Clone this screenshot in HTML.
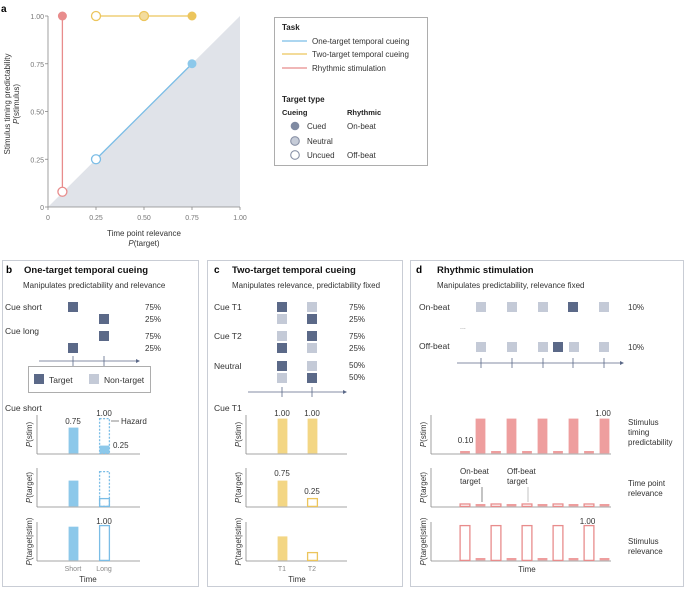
<!DOCTYPE html>
<html><head><meta charset="utf-8"><style>
body{margin:0;background:#fff;width:685px;height:589px;overflow:hidden;font-family:"Liberation Sans",sans-serif}
svg{display:block}
</style></head><body>
<svg id="fig" width="685" height="589" viewBox="0 0 685 589" xmlns="http://www.w3.org/2000/svg" font-family="Liberation Sans, sans-serif"></svg>
<script>
// ---- Panel a data ----
const aTicks = [0, 0.25, 0.5, 0.75, 1.0];
const aTickLabels = ["0", "0.25", "0.50", "0.75", "1.00"];
const pinkX = [0.075, 0.075];
const pinkY = [1.0, 0.08];
const blueX = [0.25, 0.75];
const blueY = [0.25, 0.75];
const yellowX = [0.25, 0.5, 0.75];
const yellowY = [1.0, 1.0, 1.0];
// ---- Panel b data ----
const bCats = ["Short", "Long"];
const bStim = [0.75, 0.25];
const bStimHazard = [null, 1.0];
const bTarget = [0.75, 0.25];
const bTargetStim = [0.97, 1.0];
// ---- Panel c data ----
const cCats = ["T1", "T2"];
const cStim = [1.0, 1.0];
const cTarget = [0.75, 0.25];
const cTargetStim = [0.7, 0.25];
// ---- Panel d data ----
const dStim = [0.1, 1, 0.1, 1, 0.1, 1, 0.1, 1, 0.1, 1];
const dTarget = [0.1, 0.1, 0.1, 0.1, 0.1, 0.1, 0.1, 0.1, 0.1, 0.1];
const dTargetStim = [1, 0.1, 1, 0.1, 1, 0.1, 1, 0.1, 1, 0.1];

const NS = "http://www.w3.org/2000/svg";
const svg = document.getElementById('fig');
function mk(tag, attrs, name, parent) {
  const el = document.createElementNS(NS, tag);
  for (const k in attrs) el.setAttribute(k, attrs[k]);
  
  
  (parent || svg).appendChild(el);
  return el;
}
function txt(x, y, s, name, o) {
  o = o || {};
  const t = mk('text', {x: x, y: y, 'font-size': o.size || 9, fill: o.fill || '#333', 'text-anchor': o.anchor || 'start', 'font-weight': o.weight || 'normal'}, name);
  if (o.rot) t.setAttribute('transform', 'rotate(-90 ' + x + ' ' + y + ')');
  if (o.italicP) {
    const p = document.createElementNS(NS, 'tspan'); p.setAttribute('font-style', 'italic'); p.textContent = 'P'; t.appendChild(p);
    t.appendChild(document.createTextNode(s));
  } else t.textContent = s;
  return t;
}
const BLUE = '#8cc8ea', BLUES = '#7bbde6', YEL = '#f3d684', YELS = '#ecc55c', PINK = '#ee9e9e', PINKS = '#e88c8c';
const DARK = '#5b6988', LIGHT = '#c4cad7', AX = '#888';

// ===== Panel a =====
const ax = v => 48 + v * 192;
const ay = v => 207 - v * 191;
txt(1, 12, 'a', 'panel-a-label', {weight: 'bold', size: 10, fill: '#000'});
mk('polygon', {points: `${ax(0)},${ay(0)} ${ax(1)},${ay(1)} ${ax(1)},${ay(0)}`, fill: '#e0e3e9'}, 'diagonal-region');
mk('line', {x1: ax(0), y1: ay(0), x2: ax(0), y2: ay(1), stroke: AX, 'stroke-width': 0.8}, 'y-axis');
mk('line', {x1: ax(0), y1: ay(0), x2: ax(1), y2: ay(0), stroke: AX, 'stroke-width': 0.8}, 'x-axis');
aTicks.forEach((t, i) => {
  mk('line', {x1: ax(0) - 3, y1: ay(t), x2: ax(0), y2: ay(t), stroke: AX, 'stroke-width': 0.8}, 'y-tick');
  txt(ax(0) - 4, ay(t) + 3, aTickLabels[i], 'y-tick-label', {anchor: 'end', size: 7, fill: '#777'});
  mk('line', {x1: ax(t), y1: ay(0), x2: ax(t), y2: ay(0) + 3, stroke: AX, 'stroke-width': 0.8}, 'x-tick');
  txt(ax(t), ay(0) + 13, aTickLabels[i], 'x-tick-label', {anchor: 'middle', size: 7, fill: '#777'});
});
txt(144, 236, 'Time point relevance', 'x-axis-title', {anchor: 'middle', size: 8});
txt(144, 246, '(target)', 'x-axis-title-sub', {anchor: 'middle', size: 8, italicP: true});
txt(10, 104, 'Stimulus timing predictability', 'y-axis-title', {anchor: 'middle', size: 8, rot: true});
txt(19, 104, '(stimulus)', 'y-axis-title-sub', {anchor: 'middle', size: 8, rot: true, italicP: true});
mk('line', {x1: ax(pinkX[0]), y1: ay(pinkY[0]), x2: ax(pinkX[1]), y2: ay(pinkY[1]), stroke: PINKS, 'stroke-width': 1.3}, 'rhythmic-line');
mk('line', {x1: ax(blueX[0]), y1: ay(blueY[0]), x2: ax(blueX[1]), y2: ay(blueY[1]), stroke: BLUES, 'stroke-width': 1.3}, 'one-target-line');
mk('line', {x1: ax(yellowX[0]), y1: ay(yellowY[0]), x2: ax(yellowX[2]), y2: ay(yellowY[2]), stroke: YELS, 'stroke-width': 1.3}, 'two-target-line');
mk('circle', {cx: ax(pinkX[0]), cy: ay(pinkY[0]), r: 4.5, fill: PINKS}, 'rhythmic-onbeat-point');
mk('circle', {cx: ax(pinkX[1]), cy: ay(pinkY[1]), r: 4.5, fill: '#fff', stroke: PINKS, 'stroke-width': 1.3}, 'rhythmic-offbeat-point');
mk('circle', {cx: ax(blueX[0]), cy: ay(blueY[0]), r: 4.5, fill: '#fff', stroke: BLUES, 'stroke-width': 1.3}, 'one-target-uncued-point');
mk('circle', {cx: ax(blueX[1]), cy: ay(blueY[1]), r: 4.5, fill: BLUE}, 'one-target-cued-point');
mk('circle', {cx: ax(yellowX[0]), cy: ay(yellowY[0]), r: 4.5, fill: '#fff', stroke: YELS, 'stroke-width': 1.3}, 'two-target-uncued-point');
mk('circle', {cx: ax(yellowX[1]), cy: ay(yellowY[1]), r: 4.5, fill: '#f3dc9e', stroke: YELS, 'stroke-width': 1.3}, 'two-target-neutral-point');
mk('circle', {cx: ax(yellowX[2]), cy: ay(yellowY[2]), r: 4.5, fill: YELS}, 'two-target-cued-point');

// legend
mk('rect', {x: 274.5, y: 17.5, width: 153, height: 148, fill: '#fff', stroke: '#999', 'stroke-width': 0.8}, 'legend-box');
txt(282, 30, 'Task', 'legend-task-heading', {weight: 'bold', size: 8, fill: '#222'});
[['One-target temporal cueing', BLUES, 41], ['Two-target temporal cueing', YELS, 54], ['Rhythmic stimulation', PINKS, 68]].forEach(l => {
  mk('line', {x1: 282, y1: l[2], x2: 307, y2: l[2], stroke: l[1], 'stroke-width': 1.2}, 'legend-entry-line');
  txt(312, l[2] + 3, l[0], 'legend-entry', {size: 8});
});
txt(282, 102, 'Target type', 'legend-target-heading', {weight: 'bold', size: 8, fill: '#222'});
txt(282, 115, 'Cueing', 'legend-cueing-heading', {weight: 'bold', size: 7.5, fill: '#222'});
txt(347, 115, 'Rhythmic', 'legend-rhythmic-heading', {weight: 'bold', size: 7.5, fill: '#222'});
[['Cued', 'On-beat', 126, '#7f8aa2', 'none'], ['Neutral', '', 141, '#c6ccd8', '#8890a5'], ['Uncued', 'Off-beat', 155, '#fff', '#8890a5']].forEach(l => {
  mk('circle', {cx: 295, cy: l[2], r: 4.3, fill: l[3], stroke: l[4], 'stroke-width': 1.1}, 'legend-marker');
  txt(307, l[2] + 3, l[0], 'legend-entry', {size: 8});
  if (l[1]) txt(347, l[2] + 3, l[1], 'legend-entry', {size: 8});
});

// ===== panel frames =====
mk('rect', {x: 2.5, y: 260.5, width: 196, height: 326, fill: 'none', stroke: '#c9cdd5'}, 'panel-b-frame');
mk('rect', {x: 207.5, y: 260.5, width: 195, height: 326, fill: 'none', stroke: '#c9cdd5'}, 'panel-c-frame');
mk('rect', {x: 410.5, y: 260.5, width: 273, height: 326, fill: 'none', stroke: '#c9cdd5'}, 'panel-d-frame');

function sq(x, y, dark, name) { mk('rect', {x: x, y: y, width: 10, height: 10, fill: dark ? DARK : LIGHT}, name); }
function timeAxis(x1, x2, y, ticks, name) {
  mk('line', {x1: x1, y1: y, x2: x2, y2: y, stroke: '#5b6988', 'stroke-width': 0.8}, name);
  mk('polygon', {points: `${x2},${y - 2} ${x2 + 4},${y} ${x2},${y + 2}`, fill: '#5b6988'}, name + '-arrow');
  ticks.forEach(t => mk('line', {x1: t, y1: y - 5, x2: t, y2: y + 5, stroke: '#5b6988', 'stroke-width': 0.8}, name + '-tick'));
}
function plotAxes(x0, x1, yTop, yBase, ylab, name) {
  mk('line', {x1: x0, y1: yTop, x2: x0, y2: yBase, stroke: AX, 'stroke-width': 0.8}, name + '-y-axis');
  mk('line', {x1: x0, y1: yBase, x2: x1, y2: yBase, stroke: AX, 'stroke-width': 0.8}, name + '-x-axis');
  txt(x0 - 5, (yTop + yBase) / 2, ylab, name + '-y-label', {anchor: 'middle', size: 8, rot: true, italicP: true});
}
const H = 36;
function bar(x, w, base, v, filled, fill, stroke, name, dashed) {
  const h = v * H;
  const a = {x: x + 0.6, y: base - h + 0.6, width: w - 1.2, height: Math.max(h - 1.2, 0.5)};
  if (filled) { a.fill = fill; }
  else { a.fill = 'none'; a.stroke = stroke; a['stroke-width'] = 1.3; if (dashed) a['stroke-dasharray'] = '2,1.5'; }
  mk('rect', a, name);
}

// ===== Panel b =====
txt(6, 273, 'b', 'panel-b-label', {weight: 'bold', size: 10, fill: '#000'});
txt(24, 273, 'One-target temporal cueing', 'panel-b-title', {weight: 'bold', size: 9.5, fill: '#111'});
txt(23, 288, 'Manipulates predictability and relevance', 'panel-b-subtitle', {size: 8});
txt(5, 310, 'Cue short', 'cue-short-label', {size: 8.5});
txt(5, 334, 'Cue long', 'cue-long-label', {size: 8.5});
sq(68, 302, true, 'target-square'); sq(99, 314, true, 'target-square');
sq(99, 331, true, 'target-square'); sq(68, 343, true, 'target-square');
[['75%', 310], ['25%', 322], ['75%', 339], ['25%', 351]].forEach(p => txt(145, p[1], p[0], 'percent-label', {size: 8}));
timeAxis(39, 136, 361, [73, 104], 'panel-b-time-axis');
mk('rect', {x: 28.5, y: 366.5, width: 122, height: 26, fill: '#fff', stroke: '#999', 'stroke-width': 0.8}, 'square-legend-box');
sq(34, 374, true, 'legend-target-square'); txt(49, 383, 'Target', 'legend-target-label', {size: 8.5});
sq(89, 374, false, 'legend-nontarget-square'); txt(104, 383, 'Non-target', 'legend-nontarget-label', {size: 8.5});
txt(5, 411, 'Cue short', 'cue-short-plot-label', {size: 8.5});
const bX = i => 68 + i * 31;
plotAxes(37, 140, 415, 454, '(stim)', 'b-stim');
plotAxes(37, 140, 468, 507, '(target)', 'b-target');
plotAxes(37, 140, 522, 561, '(target|stim)', 'b-target-stim');
bStim.forEach((v, i) => { if (bStimHazard[i]) bar(bX(i), 11, 454, bStimHazard[i], false, BLUE, BLUES, 'hazard-bar', true); });
bStim.forEach((v, i) => bar(bX(i), 11, 454, v, true, BLUE, BLUES, 'b-stim-bar'));
txt(bX(0) + 5, 424, '0.75', 'b-stim-value', {anchor: 'middle', size: 8});
txt(bX(1) + 5, 416, '1.00', 'b-hazard-value', {anchor: 'middle', size: 8});
txt(113, 448, '0.25', 'b-stim-value', {size: 8});
mk('line', {x1: 111, y1: 421, x2: 119, y2: 421, stroke: '#555', 'stroke-width': 0.7}, 'hazard-pointer');
txt(121, 424, 'Hazard', 'hazard-label', {size: 8});
bar(bX(1), 11, 507, 1.0, false, BLUE, BLUES, 'b-target-dashed', true);
bTarget.forEach((v, i) => bar(bX(i), 11, 507, v, i === 0, BLUE, BLUES, 'b-target-bar'));
bTargetStim.forEach((v, i) => bar(bX(i), 11, 561, v, i === 0, BLUE, BLUES, 'b-target-stim-bar'));
txt(bX(1) + 5, 524, '1.00', 'b-target-stim-value', {anchor: 'middle', size: 8});
bCats.forEach((c, i) => txt(bX(i) + 5, 571, c, 'b-x-label', {anchor: 'middle', size: 7, fill: '#888'}));
txt(88, 582, 'Time', 'b-time-label', {anchor: 'middle', size: 8});

// ===== Panel c =====
txt(214, 273, 'c', 'panel-c-label', {weight: 'bold', size: 10, fill: '#000'});
txt(232, 273, 'Two-target temporal cueing', 'panel-c-title', {weight: 'bold', size: 9.5, fill: '#111'});
txt(232, 288, 'Manipulates relevance, predictability fixed', 'panel-c-subtitle', {size: 8});
txt(214, 310, 'Cue T1', 'cue-t1-label', {size: 8.5});
txt(214, 339, 'Cue T2', 'cue-t2-label', {size: 8.5});
txt(214, 369, 'Neutral', 'neutral-label', {size: 8.5});
const cRows = [[302, 1, 0], [314, 0, 1], [331, 0, 1], [343, 1, 0], [361, 1, 0], [373, 0, 1]];
cRows.forEach(r => { sq(277, r[0], r[1], 'c-square'); sq(307, r[0], r[2], 'c-square'); });
[['75%', 310], ['25%', 322], ['75%', 339], ['25%', 351], ['50%', 368], ['50%', 380]].forEach(p => txt(349, p[1], p[0], 'percent-label', {size: 8}));
timeAxis(248, 343, 392, [282, 312], 'panel-c-time-axis');
txt(214, 411, 'Cue T1', 'cue-t1-plot-label', {size: 8.5});
const cX = i => 277 + i * 30;
plotAxes(246, 347, 415, 454, '(stim)', 'c-stim');
plotAxes(246, 347, 468, 507, '(target)', 'c-target');
plotAxes(246, 347, 522, 561, '(target|stim)', 'c-target-stim');
cStim.forEach((v, i) => { bar(cX(i), 11, 454, v, true, YEL, YELS, 'c-stim-bar'); txt(cX(i) + 5, 416, v.toFixed(2), 'c-stim-value', {anchor: 'middle', size: 8}); });
cTarget.forEach((v, i) => { bar(cX(i), 11, 507, v, i === 0, YEL, YELS, 'c-target-bar'); txt(cX(i) + 5, 507 - v * H - 4, v.toFixed(2), 'c-target-value', {anchor: 'middle', size: 8}); });
cTargetStim.forEach((v, i) => bar(cX(i), 11, 561, v, i === 0, YEL, YELS, 'c-target-stim-bar'));
cCats.forEach((c, i) => txt(cX(i) + 5, 571, c, 'c-x-label', {anchor: 'middle', size: 7, fill: '#888'}));
txt(297, 582, 'Time', 'c-time-label', {anchor: 'middle', size: 8});

// ===== Panel d =====
txt(416, 273, 'd', 'panel-d-label', {weight: 'bold', size: 10, fill: '#000'});
txt(437, 273, 'Rhythmic stimulation', 'panel-d-title', {weight: 'bold', size: 9.5, fill: '#111'});
txt(437, 288, 'Manipulates predictability, relevance fixed', 'panel-d-subtitle', {size: 8});
txt(419, 310, 'On-beat', 'on-beat-label', {size: 8.5});
txt(419, 349, 'Off-beat', 'off-beat-label', {size: 8.5});
txt(460, 329, '...', 'ellipsis', {size: 7, fill: '#888'});
[476, 507, 538, 568, 599].forEach(x => sq(x, 302, x === 568, 'd-onbeat-square'));
[476, 507, 538, 553, 569, 599].forEach(x => sq(x, 342, x === 553, 'd-offbeat-square'));
txt(628, 310, '10%', 'percent-label', {size: 8});
txt(628, 350, '10%', 'percent-label', {size: 8});
timeAxis(457, 620, 363, [481, 512, 543, 573, 604], 'panel-d-time-axis');
const dX = i => 459.5 + i * 15.5;
plotAxes(431, 611, 415, 454, '(stim)', 'd-stim');
plotAxes(431, 611, 468, 507, '(target)', 'd-target');
plotAxes(431, 611, 522, 561, '(target|stim)', 'd-target-stim');
dStim.forEach((v, i) => bar(dX(i), 11, 454, v, true, PINK, PINKS, 'd-stim-bar'));
txt(dX(0) + 6, 443, dStim[0].toFixed(2), 'd-stim-value', {anchor: 'middle', size: 8});
txt(dX(9) + 4, 416, dStim[9].toFixed(2), 'd-stim-value', {anchor: 'middle', size: 8});
dTarget.forEach((v, i) => bar(dX(i), 11, 507, v, i % 2 === 1, PINK, PINKS, 'd-target-bar'));
dTargetStim.forEach((v, i) => bar(dX(i), 11, 561, v, v < 0.5, PINK, PINKS, 'd-target-stim-bar'));
txt(dX(8) + 4, 524, '1.00', 'd-target-stim-value', {anchor: 'middle', size: 8});
txt(460, 474, 'On-beat', 'on-beat-target-label', {size: 8});
txt(460, 484, 'target', 'on-beat-target-label', {size: 8});
txt(507, 474, 'Off-beat', 'off-beat-target-label', {size: 8});
txt(507, 484, 'target', 'off-beat-target-label', {size: 8});
mk('line', {x1: 482, y1: 487, x2: 482, y2: 502, stroke: '#555', 'stroke-width': 0.7}, 'on-beat-pointer');
mk('line', {x1: 528, y1: 487, x2: 528, y2: 502, stroke: '#aaa', 'stroke-width': 0.7}, 'off-beat-pointer');
[['Stimulus', 425], ['timing', 435], ['predictability', 445], ['Time point', 486], ['relevance', 496], ['Stimulus', 544], ['relevance', 554]].forEach(l => txt(628, l[1], l[0], 'row-description', {size: 8}));
txt(527, 572, 'Time', 'd-time-label', {anchor: 'middle', size: 8});
</script>
</body></html>
